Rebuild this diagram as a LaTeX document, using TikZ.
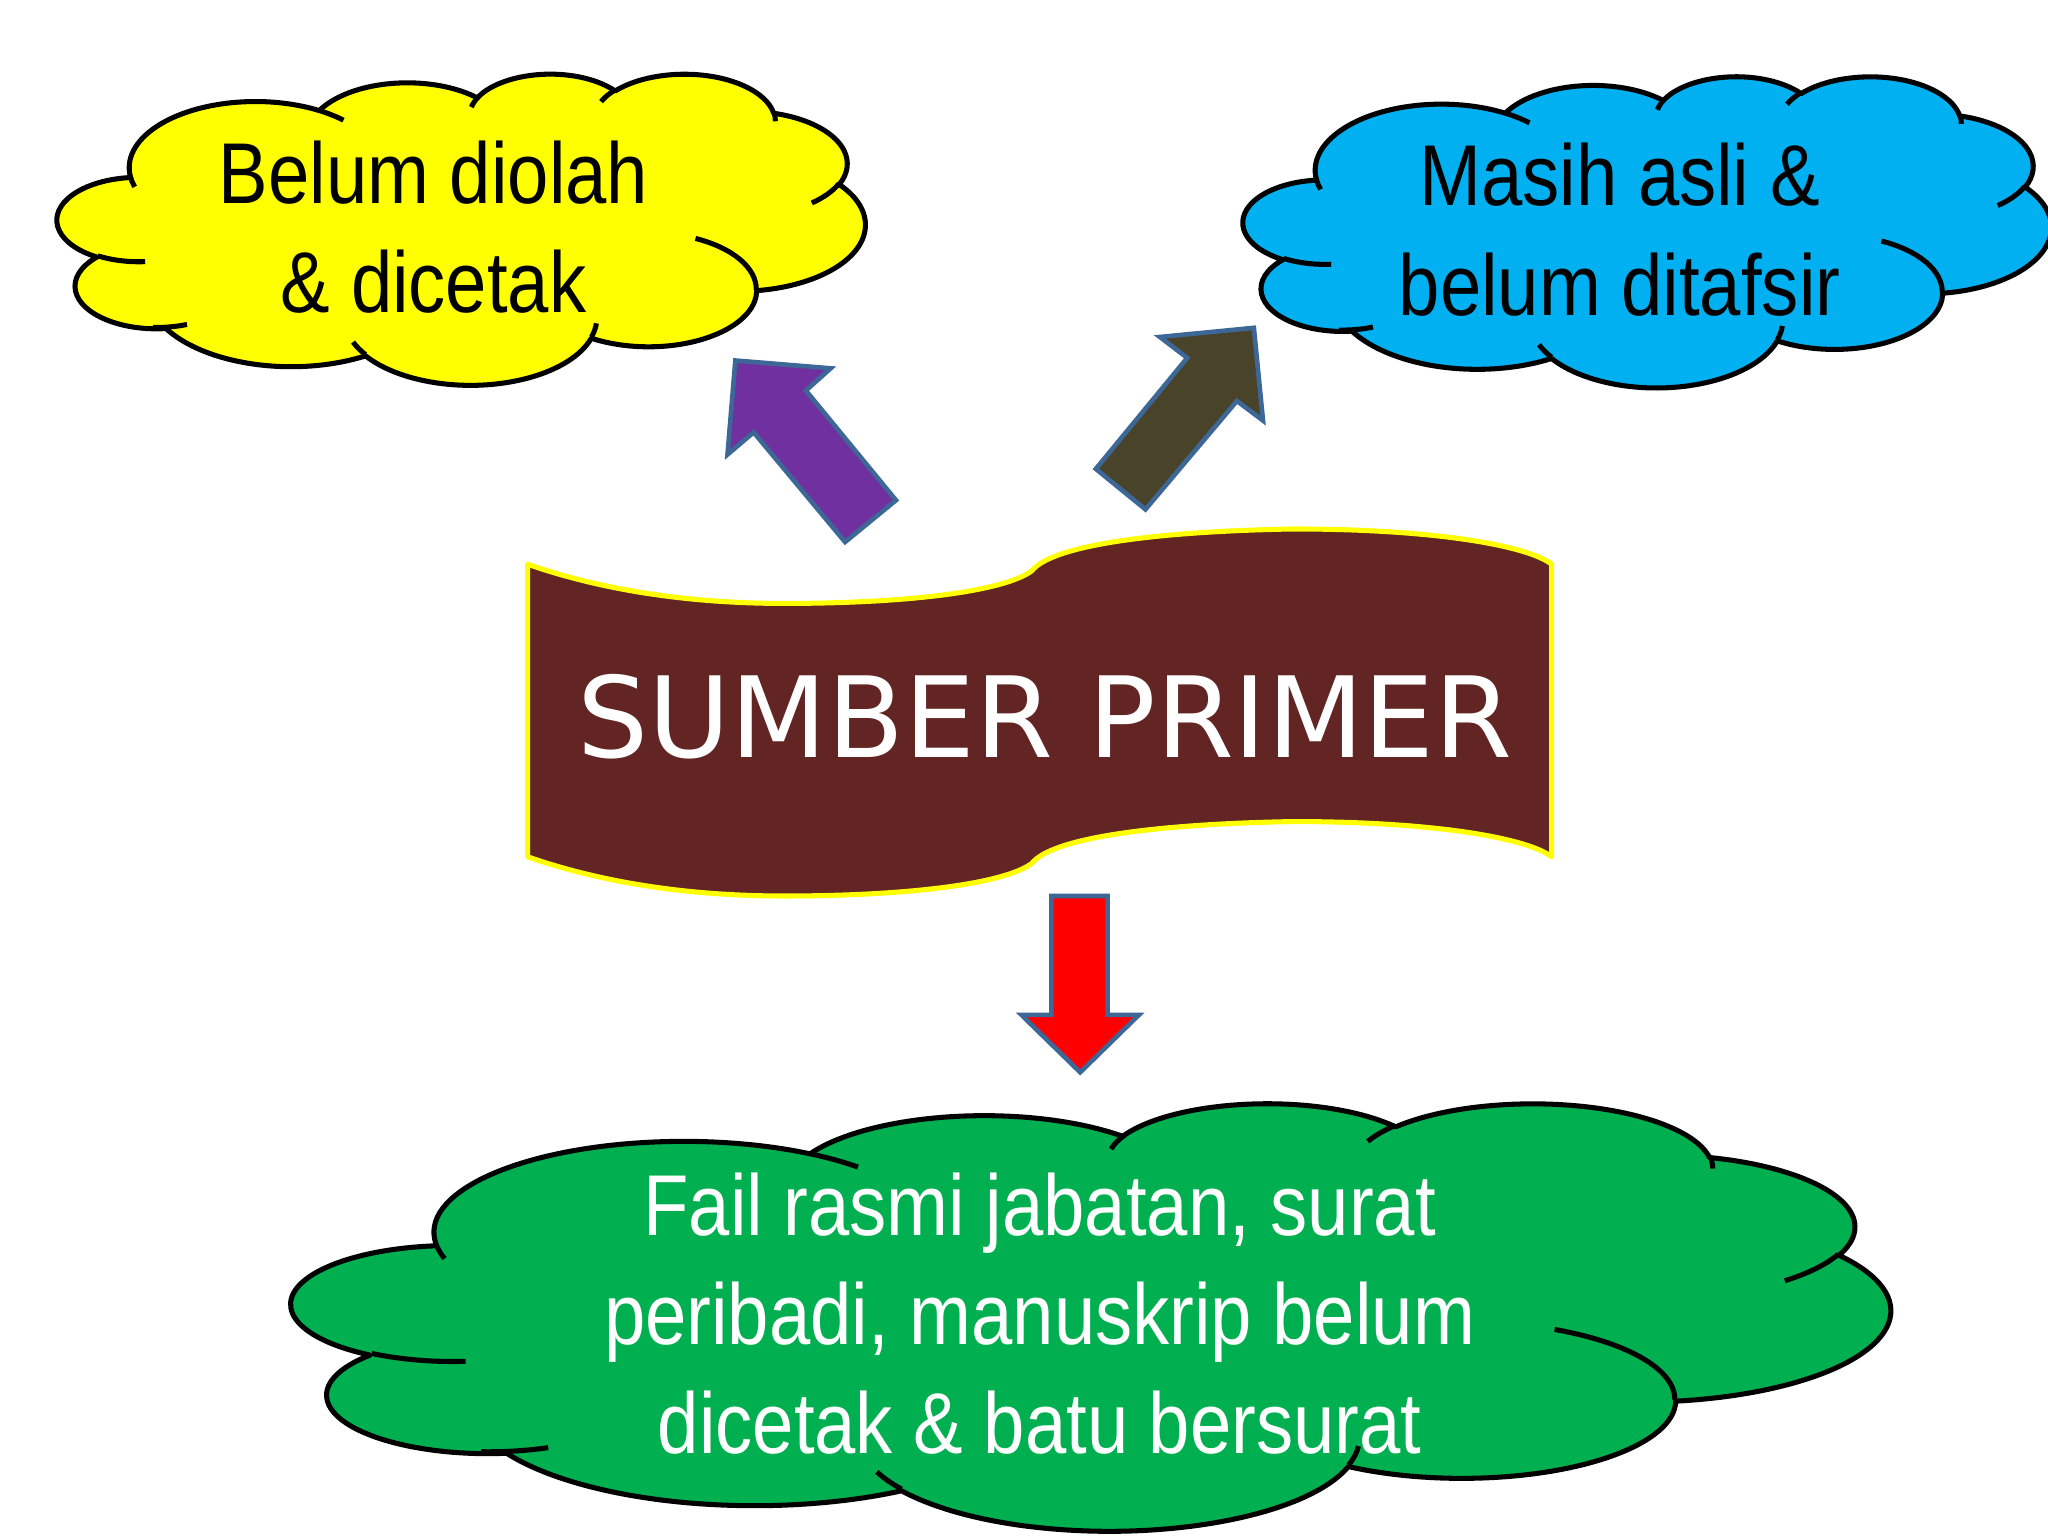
\documentclass[tikz,border=0pt]{standalone}
\usepackage{fontspec}
\setmainfont{Liberation Sans}
\newfontfamily\narrowfont[FakeStretch=0.86]{Liberation Sans}
\newfontfamily\bannerfont{DejaVu Sans}
\definecolor{cloudyellow}{HTML}{FFFF00}
\definecolor{cloudblue}{HTML}{00B0F0}
\definecolor{cloudgreen}{HTML}{00B050}
\definecolor{bannerfill}{HTML}{632523}
\definecolor{bannerline}{HTML}{FFFF00}
\definecolor{arrowline}{HTML}{3D6797}
\definecolor{arrowpurple}{HTML}{7030A0}
\definecolor{arrowolive}{HTML}{494429}
\definecolor{arrowred}{HTML}{FF0000}

% visual-angle elliptical arc (DrawingML arcTo) -> TikZ parametric arc
\newcommand\cldcalc[4]{%
  \pgfmathsetmacro\cldS{atan2((#1)*sin(#3),(#2)*cos(#3))}%
  \pgfmathsetmacro\cldE{atan2((#1)*sin((#3)+(#4)),(#2)*cos((#3)+(#4)))}%
  \pgfmathsetmacro\cldD{\cldE-\cldS}%
  \pgfmathsetmacro\cldD{\cldD-360*round((\cldD-(#4))/360)}%
  \xdef\cldA{\cldS}\xdef\cldB{\cldD}%
}
\newcommand\carc[4]{\pgfextra{\cldcalc{#1}{#2}{#3}{#4}} arc[start angle=\cldA, delta angle=\cldB, x radius=#1, y radius=#2]}

\newcommand\cloudoutline{(3.9,14.37)
 \carc{6.753}{9.19}{-190.4875}{123.7805}
 \carc{5.333}{7.267}{-144.1024}{89.9452}
 \carc{4.365}{5.945}{-145.8079}{99.7230}
 \carc{4.857}{6.595}{-130.9861}{117.2417}
 \carc{5.333}{7.273}{-78.7089}{109.0269}
 \carc{6.775}{9.22}{-46.2673}{130.269}
 \carc{5.785}{7.867}{0.6250}{114.0333}
 \carc{6.752}{9.215}{22.4516}{115.1726}
 \carc{7.72}{10.543}{66.2426}{75.72}
 \carc{4.36}{5.918}{-274.9421}{146.7356}
 \carc{4.345}{5.945}{-246.8285}{152.5189}
 -- cycle}
\newcommand\cloudinner{
 (4.693,26.177) \carc{4.345}{5.945}{86.742}{26.4295}
 (6.928,34.899) \carc{4.36}{5.918}{73.6105}{18.3025}
 (16.478,39.09) \carc{6.752}{9.215}{137.6242}{14.0811}
 (28.827,34.751) \carc{6.752}{9.215}{6.4533}{15.9984}
 (34.129,22.954) \carc{5.785}{7.867}{-70.2924}{70.9174}
 (41.798,15.354) \carc{5.333}{7.273}{30.318}{27.7515}
 (38.324,5.426) \carc{4.857}{6.595}{-13.7443}{14.8589}
 (29.078,3.952) \carc{4.857}{6.595}{-149.1815}{18.1954}
 (22.141,4.72) \carc{4.365}{5.945}{-163.4943}{17.6864}
 (14,5.192) \carc{6.753}{9.19}{-66.707}{12.3194}
 (4.127,15.789) \carc{6.753}{9.19}{157.6544}{11.8582}}

\tikzset{
  cloudline/.style={draw=black, line width=1.1pt, line join=round},
  cloudtext/.style={font=\narrowfont\fontsize{18.8}{22}\selectfont, anchor=base, inner sep=0pt},
  blockarrow/.style={draw=arrowline, line width=1pt, line join=miter},
}

\begin{document}
\begin{tikzpicture}[x=0.01cm, y=-0.01cm]
\useasboundingbox (0,0) rectangle (1568,1176);
\fill[white] (0,0) rectangle (1568,1176);

% yellow cloud
\begin{scope}[shift={(44,56)}, x=0.143056cm, y=-0.0550926cm]
  \fill[cloudyellow] \cloudoutline;
  \draw[cloudline] \cloudoutline;
  \draw[cloudline] \cloudinner;
\end{scope}
\node[cloudtext, text=black] (yl1) at (332,155.7) {Belum diolah};
\node[cloudtext, text=black] (yl2) at (332,239.2) {\& dicetak};

% blue cloud
\begin{scope}[shift={(952,58)}, x=0.143056cm, y=-0.0550926cm]
  \fill[cloudblue] \cloudoutline;
  \draw[cloudline] \cloudoutline;
  \draw[cloudline] \cloudinner;
\end{scope}
\node[cloudtext, text=black] (bl1) at (1240,157.7) {Masih asli \&};
\node[cloudtext, text=black] (bl2) at (1240,241.2) {belum ditafsir};

% green cloud
\begin{scope}[shift={(223.5,844)}, x=0.283102cm, y=-0.0756944cm]
  \fill[cloudgreen] \cloudoutline;
  \draw[cloudline] \cloudoutline;
  \draw[cloudline] \cloudinner;
\end{scope}
\node[cloudtext, text=white] (gl1) at (796,945.6) {Fail rasmi jabatan, surat};
\node[cloudtext, text=white] (gl2) at (796,1029.5) {peribadi, manuskrip belum};
\node[cloudtext, text=white] (gl3) at (796,1113) {dicetak \& batu bersurat};

% banner
\filldraw[fill=bannerfill, draw=bannerline, line width=1.1pt, line join=round]
  (404,432) .. controls (470,455) and (540,462) .. (600,462)
  .. controls (700,462) and (770,452) .. (790,437)
  .. controls (805,418) and (880,407) .. (990,405)
  .. controls (1100,405) and (1170,418) .. (1188,432)
  -- (1188,656)
  .. controls (1170,642) and (1100,629) .. (990,629)
  .. controls (880,631) and (805,642) .. (790,661)
  .. controls (770,676) and (700,686) .. (600,686)
  .. controls (540,686) and (470,679) .. (404,656) -- cycle;
\node[text=white, font=\bannerfont\fontsize{24.4}{28}\selectfont, anchor=base, inner sep=0pt] (sp) at (800,580) {SUMBER PRIMER};

% block arrows
\filldraw[blockarrow, fill=arrowpurple]
  (563,276) -- (636,282) -- (617,299) -- (686,383) -- (647,415) -- (577,331) -- (557,348) -- cycle;
\filldraw[blockarrow, fill=arrowolive]
  (960,251) -- (967,322) -- (947,307) -- (877,390) -- (839,359) -- (909,274) -- (888,258) -- cycle;
\filldraw[blockarrow, fill=arrowred]
  (805,686) -- (848,686) -- (848,777) -- (872,777) -- (827,821) -- (782,777) -- (805,777) -- cycle;
\end{tikzpicture}
\end{document}
